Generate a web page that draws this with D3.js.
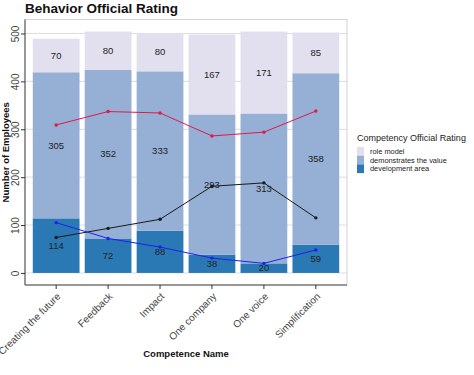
<!DOCTYPE html>
<html>
<head>
<meta charset="utf-8">
<script src="https://cdn.jsdelivr.net/npm/d3@7"></script>
<style>
  body { margin: 0; background: #fff; }
  svg { font-family: "Liberation Sans", Arial, sans-serif; }
  .axis text { fill: #444; font-size: 10px; }
  .axis-title { font-weight: bold; font-size: 9.5px; fill: #111; }
  .seg-label { font-size: 9.5px; fill: #222; text-anchor: middle; }
</style>
</head>
<body>
<svg id="chart"></svg>
<script>
// categories and series
const competences = ['Creating the future', 'Feedback', 'Impact', 'One company', 'One voice', 'Simplification'];
const ratingLevels = ['development area', 'demonstrates the value', 'role model'];
const developmentArea = [114, 72, 88, 38, 20, 59];
const demonstratesValue = [305, 352, 333, 293, 313, 358];
const roleModel = [70, 80, 80, 167, 171, 85];
// overlay lines (no legend in the original)
const redLine = [309, 337, 334, 286, 294, 338];
const blackLine = [74, 93, 112, 181, 188, 115];
const blueLine = [105, 72, 54, 31, 20, 48];
const yTicks = [0, 100, 200, 300, 400, 500];

const levelColors = {
    'role model': '#e2dfee',
    'demonstrates the value': '#95afd5',
    'development area': '#2a79b4'
};

class StackedBarChart {
    constructor(_config) {
        this.config = {
            parentElement: _config.parentElement,
            containerWidth: _config.containerWidth || 474,
            containerHeight: _config.containerHeight || 375,
            margin: _config.margin || {top: 19.5, right: 127, bottom: 90, left: 25}
        };
        this.initVis();
    }

    initVis() {
        let vis = this;

        vis.width = vis.config.containerWidth - vis.config.margin.left - vis.config.margin.right;
        vis.height = vis.config.containerHeight - vis.config.margin.top - vis.config.margin.bottom;

        vis.svg = d3.select(vis.config.parentElement)
            .attr('width', vis.config.containerWidth)
            .attr('height', vis.config.containerHeight);

        // ggplot-like expansion: 5% on y, 0.6 band on x
        vis.xScale = d3.scaleBand()
            .domain(competences)
            .range([0, vis.width])
            .paddingInner(0.1)
            .paddingOuter(0.15);

        vis.yScale = d3.scaleLinear()
            .domain([-25.2, 529.2])
            .range([vis.height, 0]);

        vis.chart = vis.svg.append('g')
            .attr('transform', `translate(${vis.config.margin.left},${vis.config.margin.top})`);

        // panel border + grid
        vis.chart.append('rect')
            .attr('width', vis.width)
            .attr('height', vis.height)
            .attr('fill', '#fff')
            .attr('stroke', '#c8c8c8')
            .attr('stroke-width', 0.8);

        vis.chart.selectAll('.grid')
            .data(yTicks)
            .join('line')
            .attr('class', 'grid')
            .attr('x1', 0)
            .attr('x2', vis.width)
            .attr('y1', d => vis.yScale(d))
            .attr('y2', d => vis.yScale(d))
            .attr('stroke', '#cfcfcf')
            .attr('stroke-width', 0.7);

        vis.updateVis();
    }

    updateVis() {
        let vis = this;

        vis.table = competences.map((c, i) => ({
            name: c,
            'development area': developmentArea[i],
            'demonstrates the value': demonstratesValue[i],
            'role model': roleModel[i]
        }));

        vis.stacked = d3.stack().keys(ratingLevels)(vis.table);

        vis.lines = [
            {color: '#e0194b', values: redLine},
            {color: '#1a1a1a', values: blackLine},
            {color: '#1f1ff0', values: blueLine}
        ];

        vis.renderVis();
    }

    renderVis() {
        let vis = this;

        // stacked bars
        vis.chart.selectAll('.layer')
            .data(vis.stacked)
            .join('g')
            .attr('class', 'layer')
            .attr('fill', d => levelColors[d.key])
            .selectAll('rect')
            .data(d => d)
            .join('rect')
            .attr('x', d => vis.xScale(d.data.name))
            .attr('width', vis.xScale.bandwidth())
            .attr('y', d => vis.yScale(d[1]))
            .attr('height', d => vis.yScale(d[0]) - vis.yScale(d[1]));

        // segment labels in the middle of each block
        vis.chart.selectAll('.label-layer')
            .data(vis.stacked)
            .join('g')
            .attr('class', 'label-layer')
            .selectAll('text')
            .data(d => d.map(s => ({s: s, key: d.key})))
            .join('text')
            .attr('class', 'seg-label')
            .attr('x', d => vis.xScale(d.s.data.name) + vis.xScale.bandwidth() / 2)
            .attr('y', d => vis.yScale((d.s[0] + d.s[1]) / 2))
            .attr('dy', '0.35em')
            .text(d => d.s.data[d.key]);

        // overlay lines with points
        let cx = c => vis.xScale(c) + vis.xScale.bandwidth() / 2;
        let line = d3.line()
            .x((d, i) => cx(competences[i]))
            .y(d => vis.yScale(d));

        let lineG = vis.chart.selectAll('.trend')
            .data(vis.lines)
            .join('g')
            .attr('class', 'trend');

        lineG.append('path')
            .attr('d', d => line(d.values))
            .attr('fill', 'none')
            .attr('stroke', d => d.color)
            .attr('stroke-width', 1);

        lineG.selectAll('circle')
            .data(d => d.values.map(v => ({v: v, color: d.color})))
            .join('circle')
            .attr('cx', (d, i) => cx(competences[i]))
            .attr('cy', d => vis.yScale(d.v))
            .attr('r', 1.7)
            .attr('fill', d => d.color);

        // axes
        vis.yAxisG = vis.chart.append('g')
            .attr('class', 'axis y-axis')
            .call(d3.axisLeft(vis.yScale).tickValues(yTicks).tickSize(4).tickSizeOuter(0));
        vis.yAxisG.select('.domain').remove();
        vis.yAxisG.selectAll('.tick line').attr('stroke', '#333');
        vis.yAxisG.selectAll('text')
            .attr('x', 0)
            .attr('dy', 0)
            .attr('transform', 'translate(-6.5,0) rotate(-90)')
            .style('text-anchor', 'middle');
        vis.chart.append('line')
            .attr('x1', 0).attr('x2', 0)
            .attr('y1', 0).attr('y2', vis.height)
            .attr('stroke', '#333').attr('stroke-width', 0.9);

        vis.xAxisG = vis.chart.append('g')
            .attr('class', 'axis x-axis')
            .attr('transform', `translate(0,${vis.height})`)
            .call(d3.axisBottom(vis.xScale).tickSize(4).tickSizeOuter(0));
        vis.xAxisG.select('.domain').remove();
        vis.xAxisG.selectAll('.tick line').attr('stroke', '#333');
        vis.xAxisG.selectAll('text')
            .style('text-anchor', 'end')
            .attr('x', 0)
            .attr('y', 0)
            .attr('dy', 0)
            .attr('transform', 'translate(5,12) rotate(-45)');
        vis.chart.append('line')
            .attr('x1', 0).attr('x2', vis.width)
            .attr('y1', vis.height).attr('y2', vis.height)
            .attr('stroke', '#333').attr('stroke-width', 0.9);

        // titles
        vis.svg.append('text')
            .attr('x', 25)
            .attr('y', 13)
            .attr('font-size', '13.5px')
            .attr('font-weight', 'bold')
            .attr('fill', '#111')
            .text('Behavior Official Rating');

        vis.svg.append('text')
            .attr('class', 'axis-title')
            .attr('text-anchor', 'middle')
            .attr('transform', `translate(9,${vis.config.margin.top + vis.height / 2}) rotate(-90)`)
            .text('Number of Employees');

        vis.svg.append('text')
            .attr('class', 'axis-title')
            .attr('text-anchor', 'middle')
            .attr('x', vis.config.margin.left + vis.width / 2)
            .attr('y', 357)
            .text('Competence Name');

        // legend
        let legend = vis.svg.append('g')
            .attr('transform', 'translate(357,141)');
        legend.append('text')
            .attr('x', 0)
            .attr('y', 0)
            .attr('font-size', '9px')
            .attr('fill', '#222')
            .text('Competency Official Rating');
        let keys = legend.selectAll('.key')
            .data(ratingLevels.slice().reverse())
            .join('g')
            .attr('class', 'key')
            .attr('transform', (d, i) => `translate(0,${6 + i * 8.7})`);
        keys.append('rect')
            .attr('width', 7)
            .attr('height', 8.7)
            .attr('fill', d => levelColors[d]);
        keys.append('text')
            .attr('x', 13)
            .attr('y', 4.5)
            .attr('dy', '0.35em')
            .attr('font-size', '7.4px')
            .attr('fill', '#222')
            .text(d => d);
    }
}

new StackedBarChart({parentElement: '#chart'});
</script>
</body>
</html>
